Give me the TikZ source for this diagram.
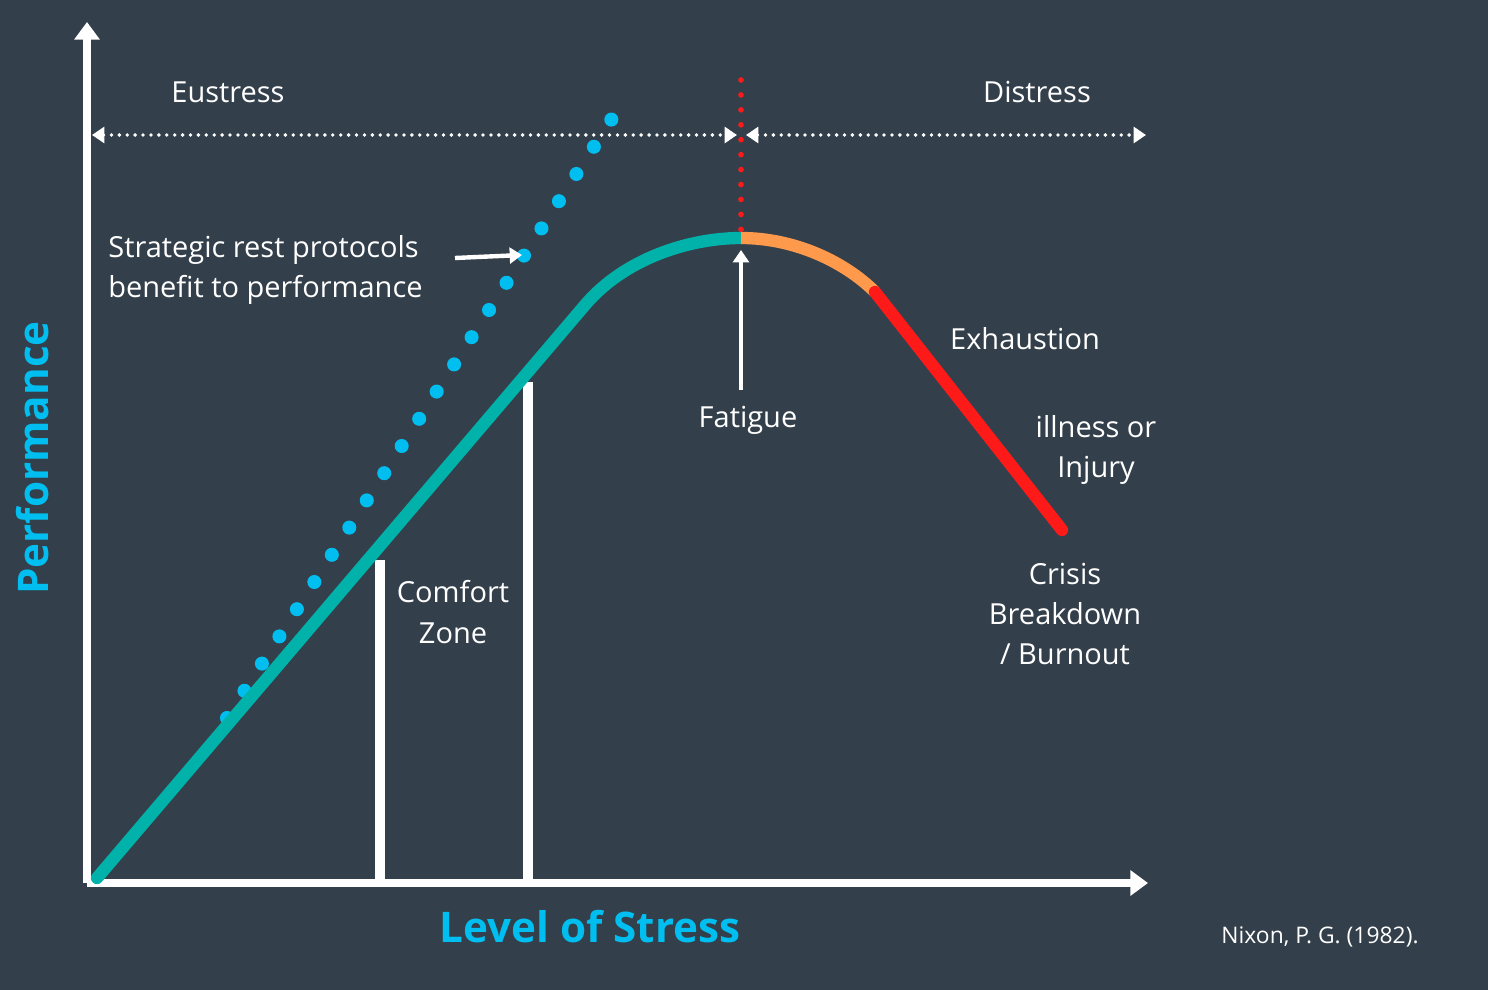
\documentclass[tikz,border=0pt]{standalone}
\usepackage{fontspec}
\setmainfont{Open Sans}
\usetikzlibrary{arrows.meta,positioning}
\definecolor{bgcol}{HTML}{333F4A}
\definecolor{tealcol}{HTML}{00B2A9}
\definecolor{cyancol}{HTML}{00BFF0}
\definecolor{orangecol}{HTML}{FF9A4D}
\definecolor{redcol}{HTML}{FF1A1A}
\begin{document}
\begin{tikzpicture}[x=0.02cm,y=-0.02cm,
    lbl/.style={text=white, font=\fontsize{16.5}{23}\selectfont, align=center, inner sep=0pt},
    axis/.style={draw=white, line width=5pt, -{Triangle[length=10pt,width=14pt]}},
    bar/.style={draw=white, line width=5.5pt},
    hdots/.style={draw=white, line width=2.2pt, line cap=round, dash pattern=on 0pt off 4.5pt},
    curve/.style={line width=7pt, line cap=round},
    title/.style={text=cyancol, font=\bfseries\fontsize{24}{28}\selectfont}
]
    % background
    \fill[bgcol] (0,0) rectangle (1488,990);

    % points
    \coordinate (origin) at (87,883);
    \coordinate (ytop) at (87,22);
    \coordinate (xend) at (1148,883);
    \coordinate (start) at (97,878);
    \coordinate (bend) at (585,305);
    \coordinate (peak) at (741,238);
    \coordinate (turn) at (875,292);
    \coordinate (crash) at (1062,530);

    % axes
    \draw[axis] (origin) -- (ytop);
    \draw[axis] (origin) -- (xend);

    % rest protocols dots
    \coordinate (dotsA) at (227,718);
    \coordinate (dotsB) at (622,103);
    \draw[cyancol, line width=8pt, line cap=round, dash pattern=on 0pt off 18.4pt] (dotsA) -- (dotsB);

    % comfort zone bars
    \coordinate (barA) at (380,560);
    \coordinate (barB) at (528,382);
    \draw[bar] (barA) -- (380,883);
    \draw[bar] (barB) -- (528,883);

    % performance curve
    \draw[curve, tealcol] (start) -- (bend) .. controls (625,258) and (690,238) .. (peak);
    \draw[curve, orangecol, line cap=butt] (peak) .. controls (795,238) and (845,262) .. (turn);
    \draw[curve, redcol] (turn) -- (crash);

    % eustress / distress
    \coordinate (eL) at (92,135);
    \coordinate (eR) at (737,135);
    \coordinate (dL) at (746,135);
    \coordinate (dR) at (1146,135);
    \draw[hdots, {Triangle[length=7pt,width=9pt]}-{Triangle[length=7pt,width=9pt]}] (eL) -- (eR);
    \draw[hdots, {Triangle[length=7pt,width=9pt]}-{Triangle[length=7pt,width=9pt]}] (dL) -- (dR);
    \coordinate (vtop) at (741,80);
    \coordinate (vbot) at (741,232);
    \draw[redcol, line width=3.2pt, line cap=round, dash pattern=on 0pt off 8.5pt] (vtop) -- (vbot);

    % labels
    \node[lbl] (eustress) at (228,92) {Eustress};
    \node[lbl] (distress) at (1037,92) {Distress};
    \node[lbl, align=left, anchor=west] (rest) at (108,270) {Strategic rest protocols\\benefit to performance};
    \coordinate (restTip) at (522,255);
    \draw[white, line width=2.5pt, -{Triangle[length=7pt,width=9pt]}] (455,258) -- (restTip);
    \node[lbl] (fatigue) at (748,420) {Fatigue};
    \coordinate (fatigueTip) at (741,250);
    \draw[white, line width=2.5pt, -{Triangle[length=7pt,width=9pt]}] (741,390) -- (fatigueTip);
    \node[lbl] (comfort) at (453,612) {Comfort\\Zone};
    \node[lbl] (exhaust) at (1025,339) {Exhaustion};
    \node[lbl] (illness) at (1096,450) {illness or\\Injury};
    \node[lbl] (crisis) at (1065,614) {Crisis\\Breakdown\\/ Burnout};
    \node[text=white, font=\fontsize{13}{16}\selectfont] (cite) at (1320,937) {Nixon, P. G. (1982).};

    % axis titles
    \node[title] (xlabel) at (590,927) {Level of Stress};
    \node[title, rotate=90] (ylabel) at (33,458) {Performance};
\end{tikzpicture}
\end{document}
